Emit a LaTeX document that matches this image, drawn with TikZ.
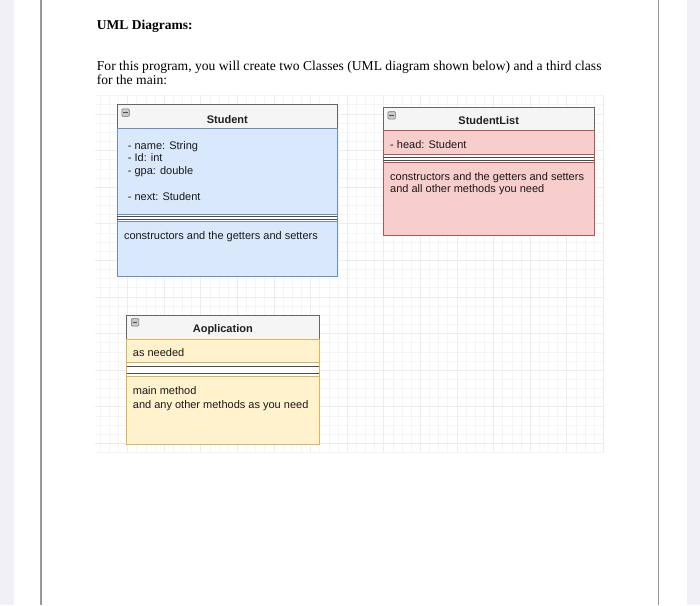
\documentclass[tikz,border=0pt]{standalone}
\usepackage{fontspec}
\setmainfont{Liberation Serif}
\newfontfamily\umlfont{Liberation Sans}
\definecolor{pagebg}{HTML}{F0F0F6}
\definecolor{stufill}{HTML}{DAE8FC}
\definecolor{studraw}{HTML}{6C8EBF}
\definecolor{lstfill}{HTML}{F8CECC}
\definecolor{lstdraw}{HTML}{B85450}
\definecolor{appfill}{HTML}{FFF2CC}
\definecolor{appdraw}{HTML}{D6B656}
\definecolor{hdrfill}{HTML}{F5F5F5}
\definecolor{hdrdraw}{HTML}{666666}
\begin{document}
\begin{tikzpicture}[x=1pt,y=-1pt,
  doc/.style={anchor=base west,inner sep=0pt,font=\fontsize{13.6}{15}\selectfont},
  txt/.style={anchor=base west,inner sep=0pt,text=black!90,font=\umlfont\fontsize{11}{12.8}\selectfont},
  ttl/.style={anchor=base,inner sep=0pt,text=black!88,font=\umlfont\bfseries\fontsize{11}{12.8}\selectfont},
  hdr/.style={draw=hdrdraw,fill=hdrfill,line width=0.8pt},
  sep/.style={draw=black!70,line width=0.8pt},
  icon/.style={draw=black!55,fill=black!22,rounded corners=1pt,minimum size=7.5pt,inner sep=0pt,line width=0.5pt},
  minusbar/.style={draw=black!70,line width=0.9pt},
  minorgrid/.style={draw=black!4,line width=0.6pt},
  majorgrid/.style={draw=black!7,line width=0.6pt}]
\useasboundingbox (0,0) rectangle (700,605);
% page
\fill[white] (0,0) rectangle (700,605);
\fill[pagebg] (0,0) rectangle (13.5,605);
\fill[pagebg] (686.7,0) rectangle (700,605);
\draw[black!40,line width=1.5pt] (41,0) -- (41,605);
\draw[black!40,line width=1.5pt] (658.7,0) -- (658.7,605);
\node[doc,font=\bfseries\fontsize{13.5}{15}\selectfont] (hd) at (96.7,29) {UML Diagrams:};
\node[doc] (p1) at (96.7,70) {For this program, you will create two Classes (UML diagram shown below) and a third class};
\node[doc] (p2) at (96.7,84) {for the main:};
% grid
\begin{scope}
\clip (95,95) rectangle (604,452);
\foreach \k in {-52,...,4} \draw[minorgrid] ({566.7+9.15*\k},95) -- ({566.7+9.15*\k},452);
\foreach \k in {-39,...,1} \draw[minorgrid] (95,{443.3+9.15*\k}) -- (604,{443.3+9.15*\k});
\foreach \k in {-13,...,1} \draw[majorgrid] ({566.7+36.6*\k},95) -- ({566.7+36.6*\k},452);
\foreach \k in {-10,...,0} \draw[majorgrid] (95,{443.3+36.6*\k}) -- (604,{443.3+36.6*\k});
\end{scope}
% Student
\draw[hdr] (117.3,104.3) rectangle (337.3,128.5);
\draw[studraw,fill=stufill,line width=0.8pt] (117.3,128.5) rectangle (337.3,214.3);
\draw[studraw,fill=white,line width=0.8pt] (117.3,214.3) rectangle (337.3,221.7);
\draw[sep] (117.3,216.7) -- (337.3,216.7);
\draw[sep] (117.3,219.7) -- (337.3,219.7);
\draw[studraw,fill=stufill,line width=0.8pt] (117.3,221.7) rectangle (337.3,276.7);
\node[icon] (si) at (125.5,112.7) {};
\draw[minusbar] ([xshift=1.7pt]si.west) -- ([xshift=-1.7pt]si.east);
\node[ttl] (st) at (227.3,123) {Student};
\foreach \t [count=\i] in {- name: String, - Id: int, - gpa: double}
  \node[txt] (sa\i) at (127.7,{136.2+12.8*\i}) {\t};
\node[txt] (sa4) at (127.7,200.2) {- next: Student};
\node[txt] (sm) at (123.8,239) {constructors and the getters and setters};
% StudentList
\draw[hdr] (383.3,107.3) rectangle (594,130.7);
\draw[lstdraw,fill=lstfill,line width=0.8pt] (383.3,130.7) rectangle (594,154.3);
\draw[lstdraw,fill=white,line width=0.8pt] (383.3,154.3) rectangle (594,162);
\draw[sep] (383.3,157) -- (594,157);
\draw[sep] (383.3,160.3) -- (594,160.3);
\draw[lstdraw,fill=lstfill,line width=0.8pt] (383.3,162) rectangle (594,235);
\node[icon] (li) at (391.7,115.3) {};
\draw[minusbar] ([xshift=1.7pt]li.west) -- ([xshift=-1.7pt]li.east);
\node[ttl] (lt) at (488.7,124) {StudentList};
\node[txt] (la) at (390,148.3) {- head: Student};
\node[txt] (lm1) at (390,180) {constructors and the getters and setters};
\node[txt] (lm2) at (390,192.7) {and all other methods you need};
% Aoplication
\draw[hdr] (126.7,315) rectangle (319,339);
\draw[appdraw,fill=appfill,line width=0.8pt] (126.7,339) rectangle (319,362.7);
\draw[appdraw,fill=white,line width=0.8pt] (126.7,362.7) rectangle (319,376.7);
\draw[sep] (126.7,366) -- (319,366);
\draw[sep] (126.7,373.3) -- (319,373.3);
\draw[appdraw,fill=appfill,line width=0.8pt] (126.7,376.7) rectangle (319,444);
\node[icon] (ai) at (135,322.3) {};
\draw[minusbar] ([xshift=1.7pt]ai.west) -- ([xshift=-1.7pt]ai.east);
\node[ttl] (at) at (222.8,332.3) {Aoplication};
\node[txt] (aa) at (132.7,356.3) {as needed};
\node[txt] (am1) at (132.7,394.7) {main method};
\node[txt] (am2) at (132.7,408) {and any other methods as you need};
\end{tikzpicture}
\end{document}
